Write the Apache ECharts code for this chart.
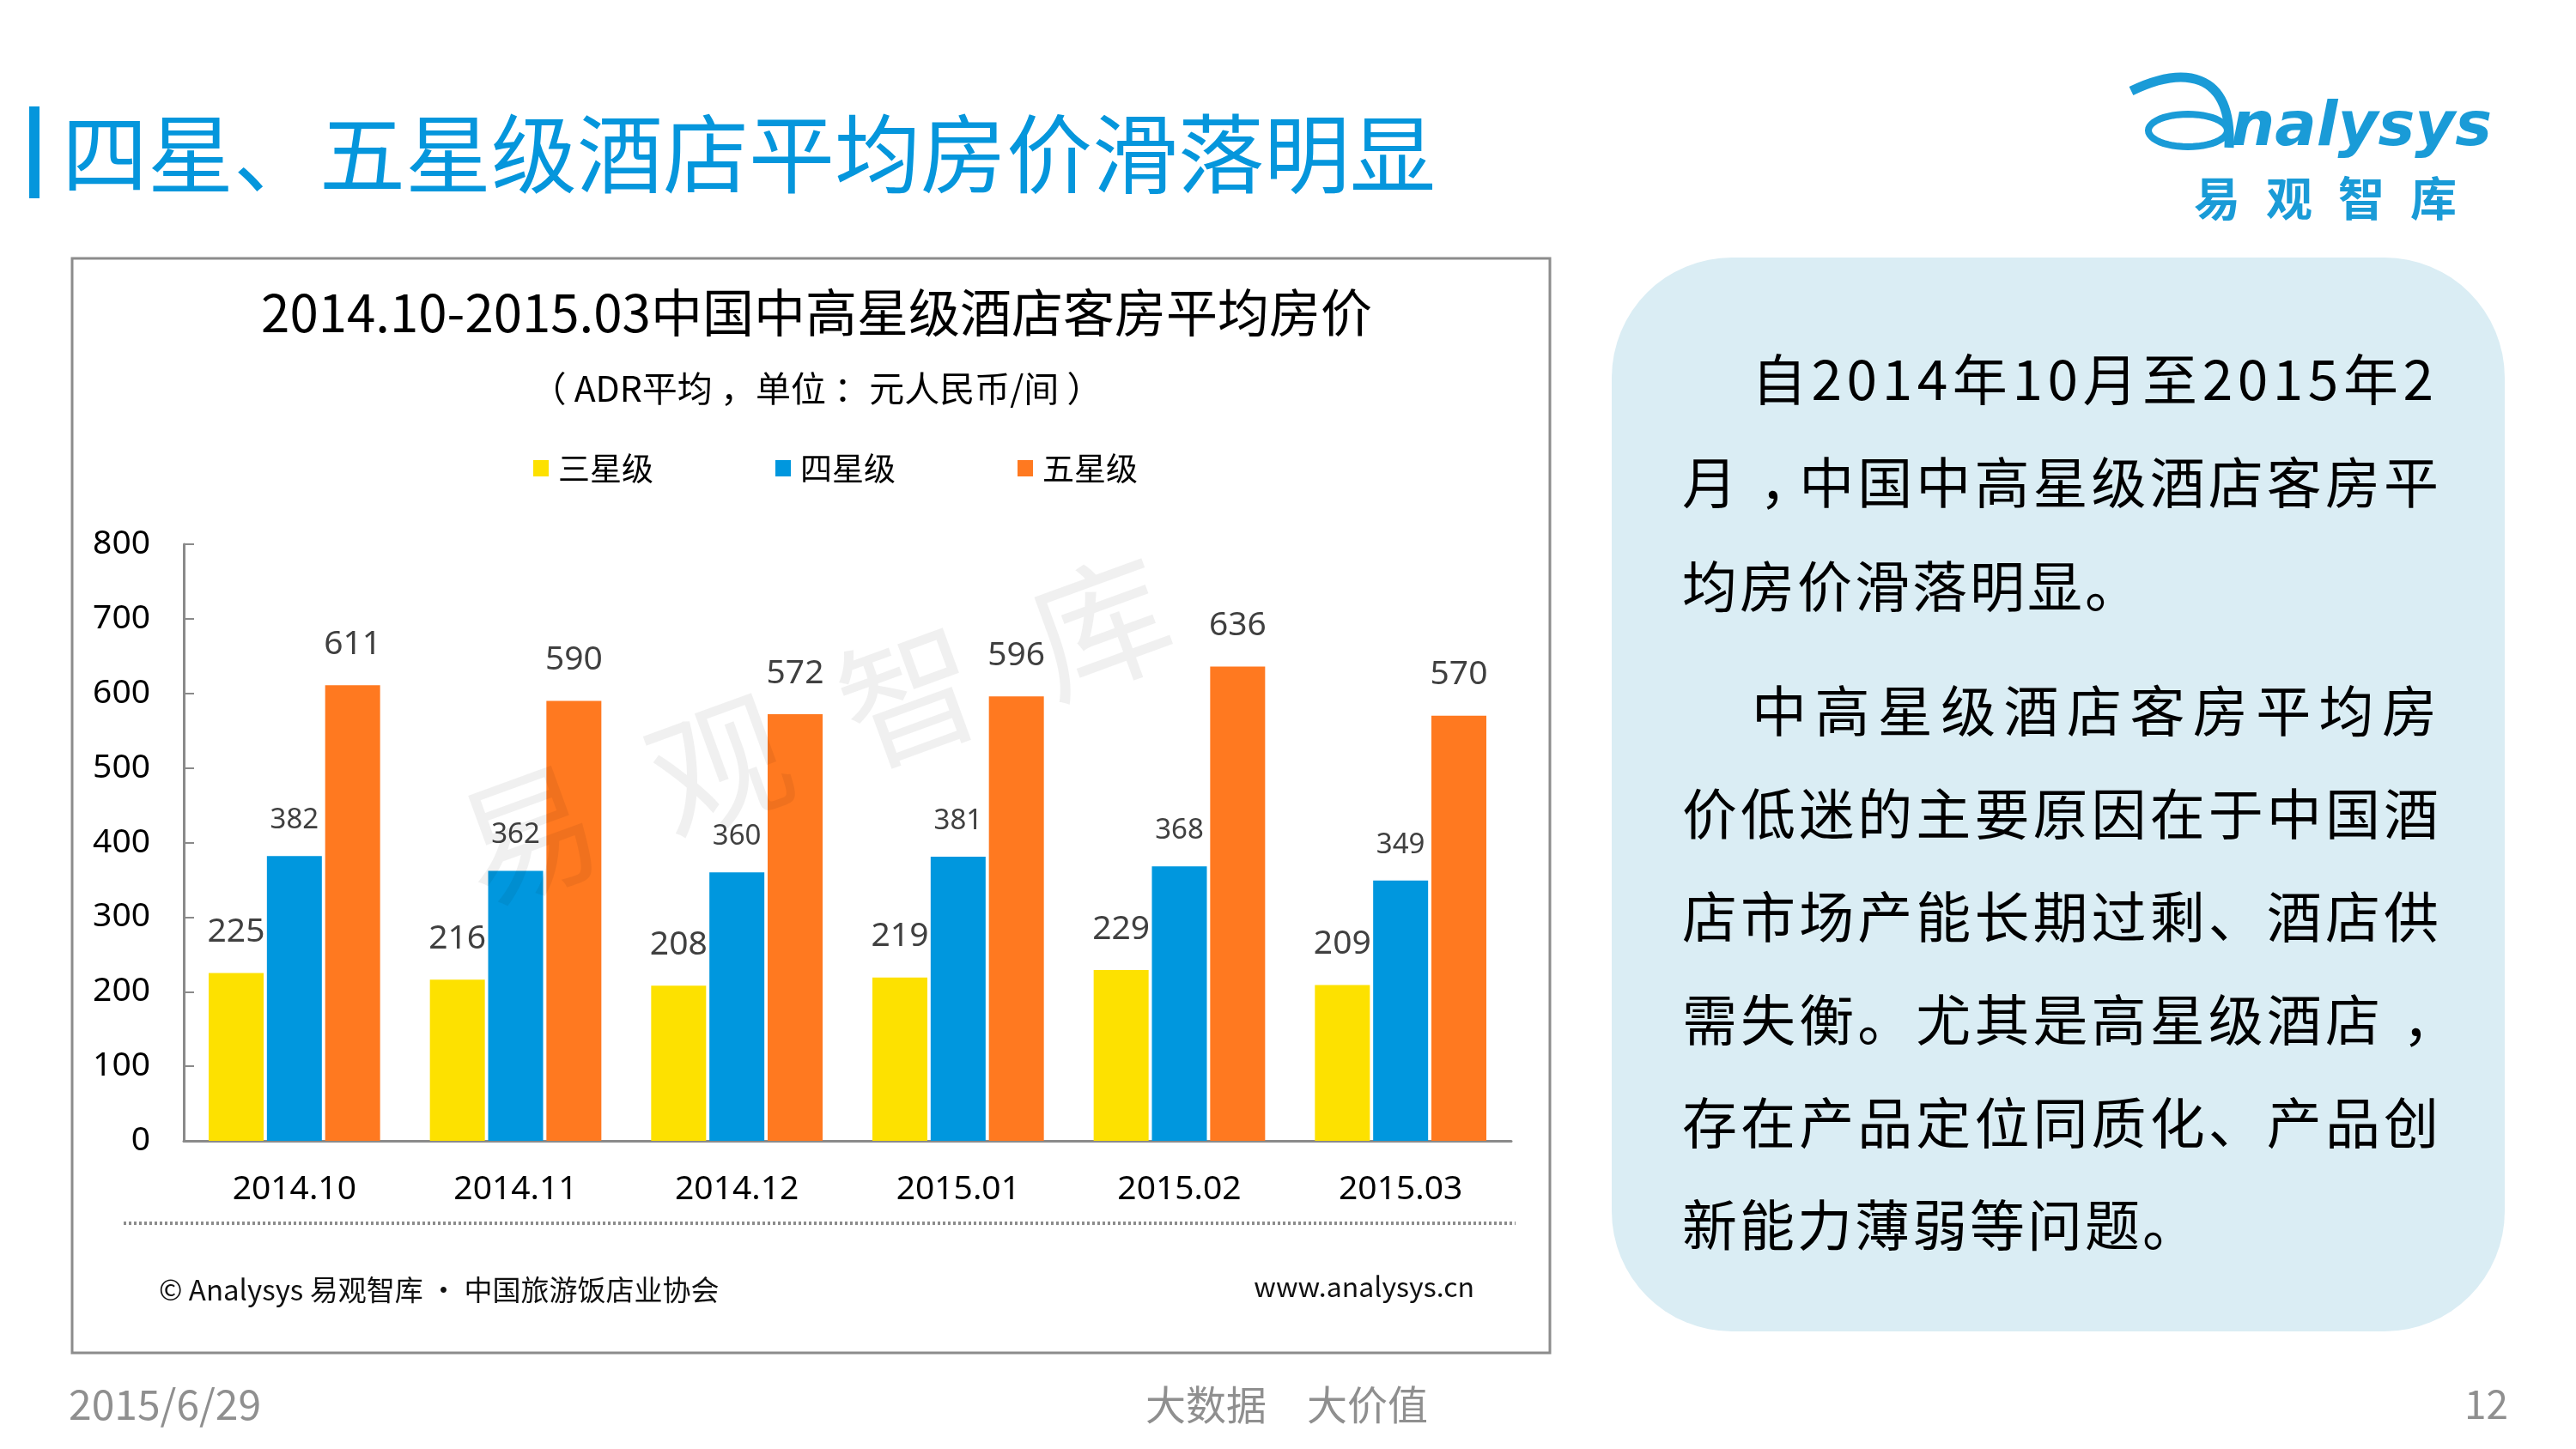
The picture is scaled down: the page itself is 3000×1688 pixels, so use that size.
<!DOCTYPE html>
<html>
<head>
<meta charset="utf-8">
<script src="https://cdn.jsdelivr.net/npm/echarts@6/dist/echarts.min.js"></script>
<style>
  html, body { margin: 0; padding: 0; background: #fff; }
  #main { width: 3000px; height: 1688px; }
</style>
</head>
<body>
<div id="main"></div>
<script>
// data
const months = ['2014.10', '2014.11', '2014.12', '2015.01', '2015.02', '2015.03'];
const threeStar = [225, 216, 208, 219, 229, 209];
const fourStar = [382, 362, 360, 381, 368, 349];
const fiveStar = [611, 590, 572, 596, 636, 570];
const seriesNames = ['三星级', '四星级', '五星级'];

// right panel text, one entry per line
const panelLines = [
  '自2014年10月至2015年2',
  '月，中国中高星级酒店客房平',
  '均房价滑落明显。',
  '中高星级酒店客房平均房',
  '价低迷的主要原因在于中国酒',
  '店市场产能长期过剩、酒店供',
  '需失衡。尤其是高星级酒店，',
  '存在产品定位同质化、产品创',
  '新能力薄弱等问题。'
];
// layout of those lines: [startX, endX (0 = not justified), centerY]
const panelLayout = [
  [2040, 2834, 442], [1959, 2840, 562], [1959, 0, 683],
  [2040, 2838, 828], [1959, 2840, 948], [1959, 2840, 1068],
  [1959, 2840, 1188], [1959, 2840, 1308], [1959, 0, 1427]
];

const CJK = '"Noto Sans CJK SC", "Noto Sans", sans-serif';
const LAT = '"Noto Sans", "Noto Sans CJK SC", sans-serif';
const colors = ['#FDE100', '#0097DE', '#FF7920'];
const logoBlue = '#1A9BD7';

const measureCtx = document.createElement('canvas').getContext('2d');
function panelText(i) {
  const chars = Array.from(panelLines[i]);
  const [sx, ex, y] = panelLayout[i];
  measureCtx.font = '64px ' + CJK;
  const widths = chars.map(c => measureCtx.measureText(c).width);
  const total = widths.reduce((a, b) => a + b, 0);
  const gap = ex ? (ex - sx - total) / (chars.length - 1) : 3;
  let x = sx;
  return chars.map((c, k) => {
    // the source font centres the full-width comma in its cell
    const shift = c === '，' ? 22 : 0;
    const el = {
      type: 'text', x: x + shift, y: y, z: 10,
      style: { text: c, fontSize: 64, fontFamily: CJK, fill: '#000',
        textVerticalAlign: 'middle', verticalAlign: 'middle' }
    };
    x += widths[k] + gap;
    return el;
  });
}

function txt(text, x, y, size, color, align, weight) {
  return {
    type: 'text', x: x, y: y, z: 10,
    style: { text: text, fontSize: size, fontFamily: CJK, fill: color, fontWeight: weight || 'normal',
      textAlign: align || 'left', align: align || 'left',
      textVerticalAlign: 'middle', verticalAlign: 'middle' }
  };
}

// watermark 易观智库
const wmChars = ['易', '观', '智', '库'];
const watermark = wmChars.map((c, i) => ({
  type: 'text', x: 615 + i * 222, y: 972 - i * 81, rotation: 0.35, z: 100,
  style: { text: c, fontSize: 160, fontFamily: CJK, fill: 'rgba(0,0,0,0.06)',
    textAlign: 'center', align: 'center', textVerticalAlign: 'middle', verticalAlign: 'middle' }
}));

// logo: bowl of the "a" as a ring of points
const bowl = [];
for (let k = 0; k <= 48; k++) {
  const t = k / 48 * Math.PI * 2;
  bowl.push([2548 + 46 * Math.cos(t), 152 + 19 * Math.sin(t)]);
}
const logoChars = ['易', '观', '智', '库'].map((c, i) => txt(c, 2582 + i * 84, 231, 54, logoBlue, 'center', 'bold'));

let graphics = [
  // page title
  { type: 'rect', shape: { x: 34, y: 124, width: 12, height: 107 }, style: { fill: '#0596DC' } },
  txt('四星、五星级酒店平均房价滑落明显', 72, 179, 100, '#0596DC'),
  // logo
  { type: 'bezierCurve', z: 10, shape: { x1: 2482, y1: 106, cpx1: 2540, cpy1: 78, cpx2: 2600, cpy2: 80, x2: 2596, y2: 172 },
    style: { stroke: logoBlue, lineWidth: 11, fill: null } },
  { type: 'polyline', z: 10, shape: { points: bowl }, style: { stroke: logoBlue, lineWidth: 8, fill: null } },
  { type: 'text', x: 2598, y: 150, z: 10, style: { text: 'nalysys', fontSize: 72, fontWeight: 'bold', fontStyle: 'italic',
    fontFamily: '"DejaVu Sans", sans-serif', fill: logoBlue, textVerticalAlign: 'middle', verticalAlign: 'middle' } },
  // chart frame
  { type: 'rect', z: 1, shape: { x: 84, y: 301, width: 1721, height: 1275 }, style: { fill: null, stroke: '#8c8c8c', lineWidth: 3 } },
  txt('2014.10-2015.03中国中高星级酒店客房平均房价', 951, 364, 60, '#000', 'center'),
  txt('（ ADR平均 ，单位 ：元人民币/间 ）', 951, 452, 41, '#000', 'center'),
  { type: 'line', z: 1, shape: { x1: 144, y1: 1425, x2: 1765, y2: 1425 }, style: { stroke: '#8c8c8c', lineWidth: 4, lineDash: [3, 3] } },
  txt('© Analysys 易观智库 • 中国旅游饭店业协会', 185, 1502, 33, '#111'),
  txt('www.analysys.cn', 1717, 1499, 32, '#111', 'right'),
  // right panel
  { type: 'rect', z: 1, shape: { x: 1877, y: 300, width: 1040, height: 1251, r: 140 }, style: { fill: '#DAEDF4' } },
  // page footer
  txt('2015/6/29', 80, 1636, 48, '#8f8f8f'),
  txt('大数据　大价值', 1334, 1636, 47, '#8f8f8f'),
  txt('12', 2921, 1636, 46, '#8f8f8f', 'right')
];
graphics = graphics.concat(logoChars, watermark);
for (let i = 0; i < panelLines.length; i++) graphics = graphics.concat(panelText(i));

function barSeries(name, data, color, labelSize, dist) {
  return {
    name: name, type: 'bar', data: data, barWidth: 64, barGap: '6%',
    itemStyle: { color: color },
    label: { show: true, position: 'top', distance: dist, fontSize: labelSize,
      fontFamily: LAT, color: '#404040' }
  };
}

const chart = echarts.init(document.getElementById('main'));
chart.setOption({
  animation: false,
  backgroundColor: '#fff',
  legend: {
    data: seriesNames, left: 616, top: 522, icon: 'rect', itemWidth: 18, itemHeight: 19, itemGap: 142,
    textStyle: { fontSize: 37, fontFamily: CJK, color: '#000', padding: [0, 0, 0, 6] }
  },
  grid: { left: 214, right: 1240, top: 634, bottom: 359, containLabel: false },
  xAxis: {
    type: 'category', data: months,
    axisLine: { lineStyle: { color: '#8a8a8a', width: 3 } },
    axisTick: { show: false },
    axisLabel: { fontSize: 39, fontFamily: LAT, color: '#000', margin: 37 }
  },
  yAxis: {
    type: 'value', min: 0, max: 800, interval: 100,
    axisLine: { show: true, lineStyle: { color: '#8a8a8a', width: 3 } },
    axisTick: { show: true, inside: true, length: 12, lineStyle: { color: '#8a8a8a', width: 2 } },
    splitLine: { show: false },
    axisLabel: { fontSize: 39, fontFamily: LAT, color: '#000', margin: 39 }
  },
  series: [
    barSeries(seriesNames[0], threeStar, colors[0], 39, 28),
    barSeries(seriesNames[1], fourStar, colors[1], 33, 25),
    barSeries(seriesNames[2], fiveStar, colors[2], 39, 28)
  ],
  graphic: graphics
});
</script>
</body>
</html>
